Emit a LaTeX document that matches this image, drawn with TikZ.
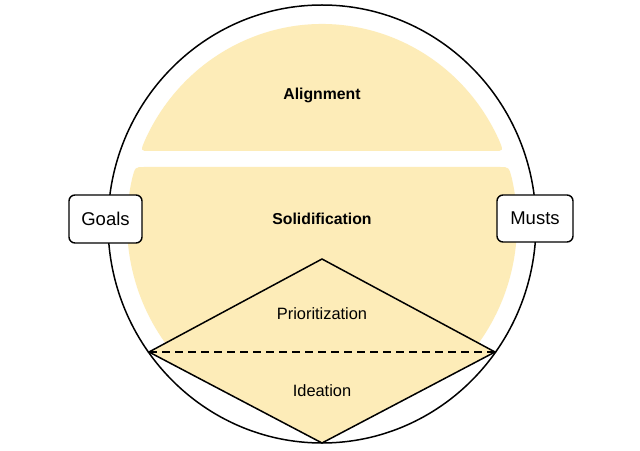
\documentclass[tikz,border=0pt]{standalone}
\usepackage{fontspec}
\setmainfont{Liberation Sans}
\definecolor{band}{HTML}{FDECB8}
\begin{document}
\begin{tikzpicture}[x=1pt,y=1pt,
  outline/.style={line width=1.5pt,draw=black},
  tag/.style={draw=black,line width=1.4pt,fill=white,rounded corners=6pt,inner sep=0pt,font=\fontsize{18.5}{20}\selectfont},
  title/.style={font=\bfseries\fontsize{15.8}{18}\selectfont},
  label/.style={font=\fontsize{16.4}{18}\selectfont}]
\useasboundingbox (0,0) rectangle (640,450);
\fill[white] (0,0) rectangle (640,450);
% band 1 (Alignment)
\fill[band] (149.4,299) -- (494.2,299) .. controls (503.6,299) .. (498.9,310.2)
  arc[start angle=24.9,end angle=155.1,x radius=195,y radius=200]
  .. controls (140.4,299) .. cycle;
% band 2 (Solidification)
\fill[band] (144.1,283) -- (499.9,283) .. controls (508.9,283) .. (511.96,271.2)
  arc[start angle=13.06,end angle=-39.79,x radius=195,y radius=200]
  -- (172.2,98)
  arc[start angle=219.79,end angle=166.94,x radius=195,y radius=200]
  .. controls (135.1,283) .. cycle;
% diamond
\coordinate (T) at (322,191);
\coordinate (L) at (149,98);
\coordinate (R) at (495,98);
\coordinate (B) at (322,7);
\fill[band] (T) -- (R) -- (B) -- (L) -- cycle;
\draw[outline,line join=miter] (T) -- (R) -- (B) -- (L) -- cycle;
\draw[line width=1.5pt,dash pattern=on 8pt off 5pt] (L) -- (R);
% outer circle
\coordinate (C) at (322,226);
\draw[outline] (C) ellipse[x radius=214,y radius=219];
% texts
\node[title] (align) at (322,354.5) {Alignment};
\node[title] (solid) at (322,231) {Solidification};
\node[label] (prio) at (322,136) {Prioritization};
\node[label] (idea) at (322,59) {Ideation};
% boxes
\node[tag,minimum width=73pt,minimum height=48pt] (goals) at (105.5,231) {Goals};
\node[tag,minimum width=76pt,minimum height=47pt] (musts) at (535,231.5) {Musts};
\end{tikzpicture}
\end{document}
